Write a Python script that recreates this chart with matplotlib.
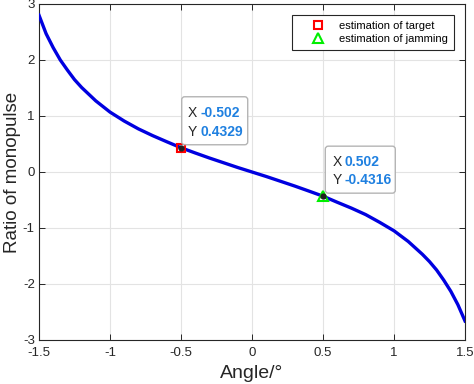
import numpy as np
import matplotlib
matplotlib.use("Agg")
import matplotlib.pyplot as plt
from matplotlib.patches import FancyBboxPatch
from matplotlib.transforms import Affine2D

plt.rcParams['font.family'] = ['Liberation Sans', 'DejaVu Sans']
plt.rcParams['axes.unicode_minus'] = False

# ---------------- data ----------------
angle = [-1.5, -1.45, -1.4, -1.35, -1.3, -1.25, -1.2, -1.1, -1.0, -0.9, -0.8, -0.7,
         -0.6, -0.5, -0.4, -0.3, -0.2, -0.1, 0.0, 0.1, 0.2, 0.3, 0.4, 0.5,
         0.6, 0.7, 0.8, 0.9, 1.0, 1.1, 1.2, 1.25, 1.3, 1.35, 1.4, 1.45, 1.5]
ratio = [2.80, 2.47, 2.22, 2.00, 1.82, 1.65, 1.51, 1.27, 1.07, 0.91, 0.77, 0.65,
         0.54, 0.4329, 0.34, 0.25, 0.165, 0.08, 0.0, -0.08, -0.165, -0.25, -0.34, -0.4316,
         -0.54, -0.645, -0.76, -0.90, -1.05, -1.24, -1.47, -1.60, -1.75, -1.93, -2.13, -2.37, -2.66]

target = (-0.502, 0.4329)
jamming = (0.502, -0.4316)

x_ticks = [-1.5, -1, -0.5, 0, 0.5, 1, 1.5]
x_labels = ["-1.5", "-1", "-0.5", "0", "0.5", "1", "1.5"]
y_ticks = [-3, -2, -1, 0, 1, 2, 3]

DARK = "#262626"
TIPBLUE = "#1f80e0"

fig = plt.figure(figsize=(4.74, 3.84), dpi=100)
ax = fig.add_axes([39/474, 1-340/384, 426/474, 336/384])

ax.plot(angle, ratio, color="#0000e0", lw=2.4, zorder=3)
ax.plot(*target, marker="s", ms=6, mfc="none", mec="red", mew=1.5, ls="none", zorder=4,
        label="estimation of target")
ax.plot(*jamming, marker="^", ms=7, mfc="none", mec="#00ee00", mew=1.5, ls="none", zorder=4,
        label="estimation of jamming")
ax.plot([target[0], jamming[0]], [target[1], jamming[1]], "o", color="#202020", ms=3.5, zorder=5)

ax.set_xlim(-1.5, 1.5)
ax.set_ylim(-3, 3)
ax.set_xticks(x_ticks)
ax.set_xticklabels(x_labels)
ax.set_yticks(y_ticks)
ax.grid(True, color="#e3e3e3", lw=0.8)
ax.set_axisbelow(True)
ax.tick_params(direction="in", top=True, right=True, length=4, width=0.7,
               colors=DARK, labelsize=9.5, pad=3)
ax.tick_params(axis="x", pad=5)
for s in ax.spines.values():
    s.set_edgecolor(DARK); s.set_linewidth(0.8)

ax.set_xlabel("Angle/°", fontsize=14, color=DARK, labelpad=4)
ax.set_ylabel("Ratio of monopulse", fontsize=13.5, color=DARK, labelpad=1)

leg = ax.legend(loc="upper right", fontsize=8, fancybox=False, edgecolor=DARK,
                framealpha=1, borderaxespad=1.0, handlelength=3.6, handletextpad=0.15,
                borderpad=0.5, labelspacing=0.3)
leg.get_frame().set_linewidth(0.8)


# ---------------- data tips ----------------
def data_tip(pt, box, xrow, yrow, xlab, vlab):
    px, py = ax.transData.transform(pt)
    bx, by, bw, bh = box
    patch = FancyBboxPatch((bx, by), bw, bh, boxstyle="round,pad=0,rounding_size=3",
                           transform=Affine2D().translate(px, py), fc="white",
                           ec="#b0b0b0", lw=1.0, alpha=0.95, zorder=6, clip_on=False)
    ax.add_artist(patch)
    for lab, val, dy in (("X", f"{pt[0]:.3f}".rstrip("0"), xrow), ("Y", f"{pt[1]:.4f}", yrow)):
        ax.annotate(lab, pt, xytext=(xlab, dy), textcoords="offset pixels",
                    fontsize=10, color=DARK, va="center", ha="left", zorder=7)
        ax.annotate(val, pt, xytext=(vlab, dy), textcoords="offset pixels",
                    fontsize=10, color=TIPBLUE, fontweight="bold", va="center",
                    ha="left", zorder=7)


data_tip(target, (1, 3, 66, 48), 35, 16, 7, 20)
data_tip(jamming, (2, 3, 70, 47), 34, 16, 9, 21)

fig.savefig("out.png", dpi=100)
